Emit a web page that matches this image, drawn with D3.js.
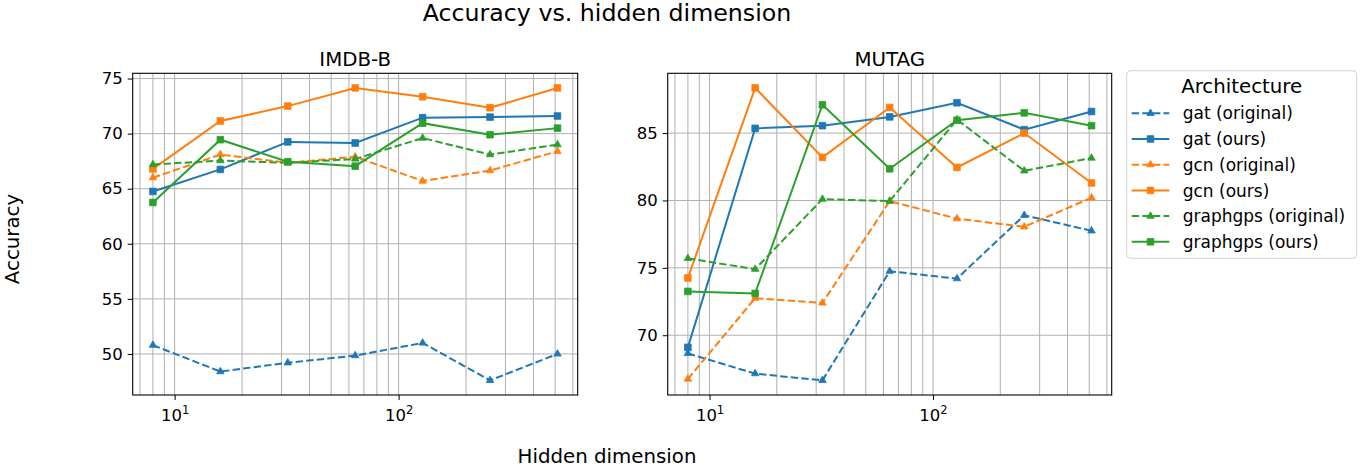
<!DOCTYPE html>
<html><head><meta charset="utf-8">
<script src="https://cdn.jsdelivr.net/npm/d3@7"></script>
<style>
body{margin:0;background:#fff;}
svg{font-family:"DejaVu Sans",sans-serif;}
</style></head>
<body>
<svg id="chart" width="1361" height="466"></svg>
<script>
const hiddenDims = [8, 16, 32, 64, 128, 256, 512];
const seriesNames = ["gat (original)", "gat (ours)", "gcn (original)", "gcn (ours)", "graphgps (original)", "graphgps (ours)"];
const seriesColors = ["#1f77b4", "#1f77b4", "#ff7f0e", "#ff7f0e", "#2ca02c", "#2ca02c"];
const seriesDashed = [true, false, true, false, true, false];

// IMDB-B
const imdbGatOriginal = [50.8, 48.4, 49.2, 49.85, 51.0, 47.6, 50.0];
const imdbGatOurs = [64.75, 66.75, 69.25, 69.15, 71.45, 71.5, 71.6];
const imdbGcnOriginal = [66.0, 68.1, 67.35, 67.9, 65.7, 66.65, 68.4];
const imdbGcnOurs = [66.8, 71.15, 72.5, 74.15, 73.35, 72.35, 74.15];
const imdbGpsOriginal = [67.2, 67.55, 67.35, 67.7, 69.6, 68.1, 69.0];
const imdbGpsOurs = [63.75, 69.45, 67.45, 67.05, 70.95, 69.9, 70.5];

// MUTAG
const mutagGatOriginal = [68.65, 67.15, 66.65, 74.75, 74.2, 78.9, 77.75];
const mutagGatOurs = [69.1, 85.35, 85.55, 86.2, 87.25, 85.25, 86.6];
const mutagGcnOriginal = [66.75, 72.75, 72.4, 79.95, 78.65, 78.05, 80.2];
const mutagGcnOurs = [74.25, 88.35, 83.2, 86.9, 82.45, 85.0, 81.3];
const mutagGpsOriginal = [75.7, 74.9, 80.1, 79.95, 86.0, 82.2, 83.15];
const mutagGpsOurs = [73.25, 73.1, 87.1, 82.35, 85.95, 86.5, 85.55];

const imdbTicks = [50, 55, 60, 65, 70, 75];
const mutagTicks = [70, 75, 80, 85];

const panels = [
  {title: "IMDB-B", series: [imdbGatOriginal, imdbGatOurs, imdbGcnOriginal, imdbGcnOurs, imdbGpsOriginal, imdbGpsOurs], yticks: imdbTicks, left: 132.7, right: 577.7},
  {title: "MUTAG", series: [mutagGatOriginal, mutagGatOurs, mutagGcnOriginal, mutagGcnOurs, mutagGpsOriginal, mutagGpsOurs], yticks: mutagTicks, left: 667.7, right: 1111.7}
];

const svg = d3.select("#chart");
const axTop = 73.3, axBottom = 395;
const tickFont = 16.5;

const lx = Math.log10(hiddenDims[hiddenDims.length-1]/hiddenDims[0]) * 0.05;
const xDomain = [hiddenDims[0] / Math.pow(10, lx), hiddenDims[hiddenDims.length-1] * Math.pow(10, lx)];

panels.forEach(p => {
  const x = d3.scaleLog().domain(xDomain).range([p.left, p.right]);
  const all = p.series.flat();
  const mn = d3.min(all), mx = d3.max(all), pad = (mx - mn) * 0.05;
  const y = d3.scaleLinear().domain([mn - pad, mx + pad]).range([axBottom, axTop]);
  const g = svg.append("g");

  // grid
  const minorVals = [];
  [1, 10, 100].forEach(dec => { for (let k = 1; k <= 9; k++) { const v = k * dec; if (v >= xDomain[0] && v <= xDomain[1]) minorVals.push(v); } });
  g.append("g").selectAll("line").data(minorVals).join("line")
    .attr("x1", d => x(d)).attr("x2", d => x(d)).attr("y1", axTop).attr("y2", axBottom)
    .attr("stroke", "#b0b0b0").attr("stroke-width", 1);
  g.append("g").selectAll("line").data(p.yticks).join("line")
    .attr("x1", p.left).attr("x2", p.right).attr("y1", d => y(d)).attr("y2", d => y(d))
    .attr("stroke", "#b0b0b0").attr("stroke-width", 1);

  // axes
  const yAxis = d3.axisLeft(y).tickValues(p.yticks).tickSize(5).tickPadding(5).tickFormat(d3.format("d"));
  const ya = g.append("g").attr("transform", `translate(${p.left},0)`).call(yAxis);
  ya.select(".domain").remove();
  ya.selectAll("text").attr("font-size", tickFont).attr("font-family", "DejaVu Sans").attr("fill", "#000");
  ya.selectAll("line").attr("stroke", "#000").attr("stroke-width", 1);

  const xAxis = d3.axisBottom(x).tickValues([10, 100]).tickSize(5).tickFormat("");
  const xa = g.append("g").attr("transform", `translate(0,${axBottom})`).call(xAxis);
  xa.select(".domain").remove();
  xa.selectAll("line").attr("stroke", "#000").attr("stroke-width", 1);
  xa.selectAll(".tick").each(function(d) {
    const t = d3.select(this).append("text").attr("y", 25.7).attr("text-anchor", "middle")
      .attr("fill", "#000").attr("font-size", tickFont).attr("font-family", "DejaVu Sans");
    t.append("tspan").text("10");
    t.append("tspan").attr("font-size", 11.5).attr("dy", -7).text(String(Math.round(Math.log10(d))));
  });

  // frame
  g.append("rect").attr("x", p.left).attr("y", axTop).attr("width", p.right - p.left).attr("height", axBottom - axTop)
    .attr("fill", "none").attr("stroke", "#000").attr("stroke-width", 1.1);

  // title
  g.append("text").attr("x", (p.left + p.right) / 2).attr("y", 66).attr("text-anchor", "middle")
    .attr("font-size", 19.8).text(p.title);

  // series
  const line = d3.line().x((d, i) => x(hiddenDims[i])).y(d => y(d));
  p.series.forEach((s, si) => {
    const sg = g.append("g");
    sg.append("path").datum(s).attr("d", line).attr("fill", "none")
      .attr("stroke", seriesColors[si]).attr("stroke-width", 2)
      .attr("stroke-dasharray", seriesDashed[si] ? "7.4,3.2" : null);
    const sym = d3.symbol().type(seriesDashed[si] ? d3.symbolTriangle : d3.symbolSquare).size(seriesDashed[si] ? 24 : 44);
    sg.selectAll("path.m").data(s).join("path").attr("class", "m")
      .attr("transform", (d, i) => `translate(${x(hiddenDims[i])},${y(d)})`)
      .attr("d", sym()).attr("fill", seriesColors[si]).attr("stroke", seriesColors[si]).attr("stroke-width", 0.8);
  });
});

// figure texts
svg.append("text").attr("x", 607).attr("y", 21).attr("text-anchor", "middle").attr("font-size", 23.7)
  .text("Accuracy vs. hidden dimension");
svg.append("text").attr("x", 607).attr("y", 462.5).attr("text-anchor", "middle").attr("font-size", 19.8)
  .text("Hidden dimension");
svg.append("text").attr("transform", "translate(18.5,239) rotate(-90)").attr("text-anchor", "middle").attr("font-size", 19.8)
  .text("Accuracy");

// legend
const lg = svg.append("g");
lg.append("rect").attr("x", 1126.7).attr("y", 70.7).attr("width", 230).attr("height", 187.6)
  .attr("rx", 4).attr("fill", "#fff").attr("stroke", "#d0d0d0").attr("stroke-width", 1);
lg.append("text").attr("x", 1241.7).attr("y", 93.3).attr("text-anchor", "middle").attr("font-size", 19.8).text("Architecture");
seriesNames.forEach((name, i) => {
  const cy = 113.3 + i * 25.7;
  lg.append("line").attr("x1", 1131.7).attr("x2", 1169.3).attr("y1", cy).attr("y2", cy)
    .attr("stroke", seriesColors[i]).attr("stroke-width", 2)
    .attr("stroke-dasharray", seriesDashed[i] ? "7.4,3.2" : null);
  const sym = d3.symbol().type(seriesDashed[i] ? d3.symbolTriangle : d3.symbolSquare).size(seriesDashed[i] ? 24 : 44);
  lg.append("path").attr("transform", `translate(1150.5,${cy})`).attr("d", sym())
    .attr("fill", seriesColors[i]).attr("stroke", seriesColors[i]).attr("stroke-width", 0.8);
  lg.append("text").attr("x", 1182.7).attr("y", cy).attr("dy", "0.36em").attr("font-size", 17).text(name);
});
</script>
</body></html>
